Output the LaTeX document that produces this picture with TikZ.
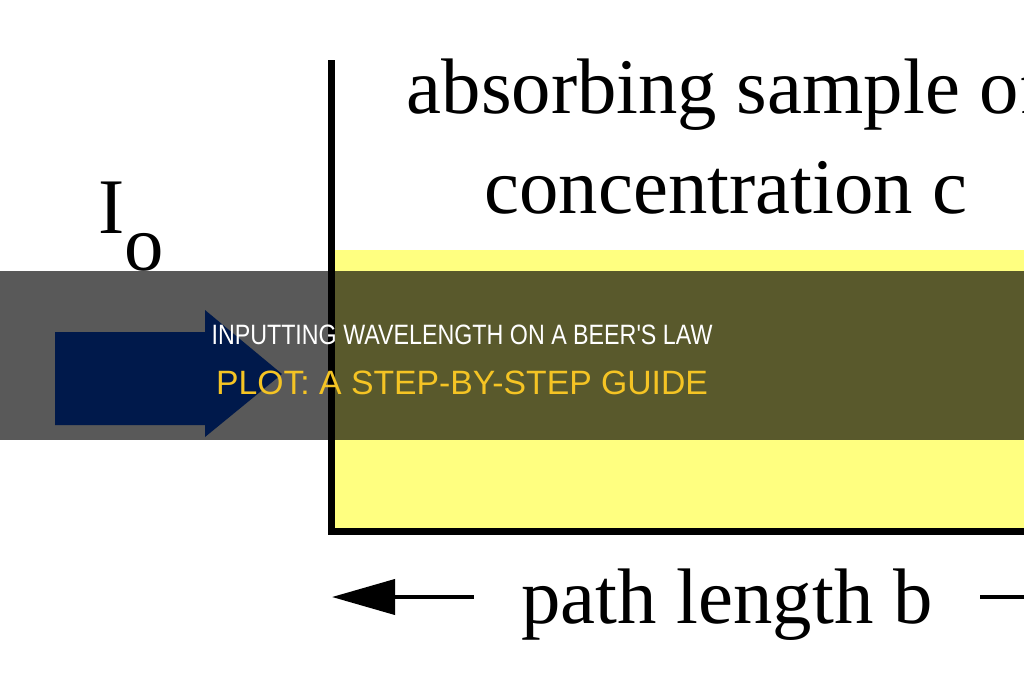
\documentclass[tikz,border=0pt]{standalone}
\usepackage{fontspec}
\setmainfont{Liberation Serif}
\newfontfamily\bannerfont{Liberation Sans}[FakeStretch=0.83]
\newfontfamily\subtitlefont{Liberation Sans}
\usepackage{tikz}
\usetikzlibrary{arrows.meta,positioning}
\definecolor{samplefill}{RGB}{255,255,128}
\definecolor{beamblue}{RGB}{0,74,215}
\definecolor{bannergold}{RGB}{245,196,36}
\tikzset{labeltext/.style={inner sep=0pt,font=\fontsize{22.4}{26}\selectfont},
  bannertext/.style={inner sep=0pt}}

\begin{document}
\begin{tikzpicture}[>=Latex]
    \useasboundingbox (0,0) rectangle (10.24,6.80);
    \clip (0,0) rectangle (10.24,6.80);
    \fill[white] (0,0) rectangle (10.24,6.80);

    \fill[samplefill] (3.31,1.49) rectangle (10.40,4.30);
    \coordinate (walltop) at (3.31,6.20);
    \coordinate (corner) at (3.31,1.49);
    \coordinate (floorend) at (10.40,1.49);
    \draw[line width=0.7mm] (walltop) -- (corner) -- (floorend);

    \node[labeltext,anchor=base] (sample) at (7.26,5.67) {absorbing sample of};
    \node[labeltext,anchor=base] (conc) at (7.26,4.67) {concentration c};
    \node[labeltext,anchor=base west] (io) at (0.98,4.47) {I\raisebox{-0.37cm}{o}};

    \fill[beamblue] (0.55,3.48) -- (2.05,3.48) -- (2.05,3.70) -- (2.82,3.06)
      -- (2.05,2.43) -- (2.05,2.55) -- (0.55,2.55) -- cycle;

    \node[labeltext,anchor=base,inner xsep=0.47cm] (pathlbl) at (7.27,0.57) {path length b};
    \coordinate (lend) at (3.32,0.83);
    \coordinate (rend) at (10.90,0.83);
    \draw[line width=0.4mm,-{Triangle[length=6.3mm,width=3.5mm]}] (pathlbl.west |- lend) -- (lend);
    \draw[line width=0.4mm,-{Triangle[length=6.3mm,width=3.5mm]}] (pathlbl.east |- rend) -- (rend);

    \fill[black,opacity=0.65] (0,2.40) rectangle (10.24,4.09);
    \node[bannertext,text=white,font=\bannerfont\fontsize{7.97}{9}\selectfont] (title) at (4.62,3.45)
      {INPUTTING WAVELENGTH ON A BEER'S LAW};
    \node[bannertext,text=bannergold,font=\subtitlefont\fontsize{9.6}{11}\selectfont] (subtitle) at (4.62,2.97)
      {PLOT: A STEP-BY-STEP GUIDE};
  \end{tikzpicture}
\end{document}
